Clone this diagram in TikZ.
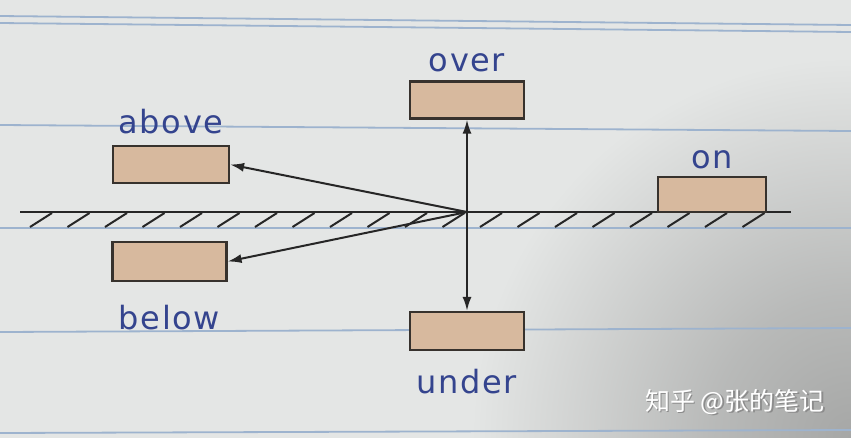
\documentclass[tikz,border=0pt]{standalone}
\usepackage{fontspec}
\newfontfamily\handfont{DejaVu Sans}[LetterSpace=5]
\newfontfamily\cjkfont{Noto Sans CJK SC}
\usetikzlibrary{arrows.meta,positioning}
\definecolor{paperlight}{HTML}{E4E6E5}
\definecolor{paperdark}{HTML}{A6A7A6}
\definecolor{ruleblue}{HTML}{9DB3CE}
\definecolor{inkblue}{HTML}{34448E}
\definecolor{boxtan}{HTML}{D7B99E}
\definecolor{boxedge}{HTML}{37322D}
\pgfdeclareradialshading{cornerdim}{\pgfpoint{0bp}{0bp}}{%
  color(0bp)=(paperdark); color(3.5bp)=(paperdark!70!paperlight);
  color(9.5bp)=(paperlight); color(50bp)=(paperlight)}
\tikzset{
  block/.style={draw=boxedge,fill=boxtan,line width=2.2pt,
                minimum width=114pt,minimum height=37pt,inner sep=0pt},
  word/.style={font=\handfont\fontsize{32}{32}\selectfont,text=inkblue,
               inner sep=0pt,anchor=base},
  flow/.style={-{Latex[length=14pt,width=9pt]},line width=2pt,draw=black!85},
  ruling/.style={draw=ruleblue,line width=1.8pt},
  ground/.style={draw=black!85,line width=2.6pt},
  hatch/.style={draw=black!85,line width=2pt}
}

\begin{document}
\begin{tikzpicture}[x=1pt,y=-1pt]
  % paper
  \begin{scope}
    \clip (0,0) rectangle (851,437);
    \shade[shading=cornerdim] (851,437) circle (1000);
  \end{scope}
  \useasboundingbox (0,0) rectangle (851,437);
  \foreach \l/\r in {16/25,23/32,125/131,228/228,332/328,433/430}
    \draw[ruling] (0,\l) -- (851,\r);

  % ground
  \coordinate (gl) at (20,212);
  \coordinate (gr) at (791,212);
  \coordinate (hub) at (467,212);
  \foreach \k in {0,...,19}
    \draw[hatch] ({30+37.5*\k},227) -- ++(22,-14);
  \draw[ground] (gl) -- (gr);

  % boxes
  \node[block] (overbox) at (467,100) {};
  \node[block,minimum width=116pt] (abovebox) at (171,164.5) {};
  \node[block,minimum width=108pt,minimum height=35pt] (onbox) at (712,194.5) {};
  \node[block,minimum height=39pt] (belowbox) at (169.5,261.5) {};
  \node[block,minimum height=38pt] (underbox) at (467,331) {};

  \node[word,above=9pt of overbox.north,anchor=base] (overlbl) {over};
  \node[word,above=11pt of abovebox.north,anchor=base] (abovelbl) {above};
  \node[word,above=7pt of onbox.north,anchor=base] (onlbl) {on};
  \node[word,below=47pt of belowbox.south,anchor=base] (belowlbl) {below};
  \node[word,below=42pt of underbox.south,anchor=base] (underlbl) {under};

  \draw[flow] (hub) -- (overbox);
  \draw[flow] (hub) -- (underbox);
  \draw[flow] (hub) -- (abovebox.east);
  \draw[flow] (hub) -- (belowbox.east);

  % watermark
  \node[font=\cjkfont\fontsize{25}{25}\selectfont,text=black!45] at (736.5,403.5)
    {知乎 @张的笔记};
  \node[font=\cjkfont\fontsize{25}{25}\selectfont,text=white] (sign) at (735,402)
    {知乎 @张的笔记};
\end{tikzpicture}
\end{document}
